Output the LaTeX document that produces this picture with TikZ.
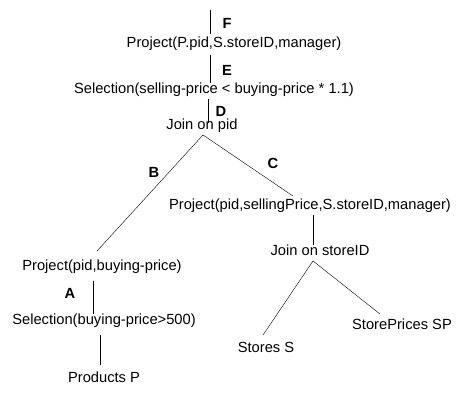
\documentclass[tikz,border=0pt]{standalone}
\usepackage{fontspec}
\setmainfont{Liberation Sans}

\begin{document}
\begin{tikzpicture}[x=1pt,y=-1pt,
		op/.style={inner sep=3pt,text height=0.75em,text depth=0.2em,font=\fontsize{14.7}{17}\selectfont},
		lbl/.style={inner sep=0pt,font=\fontsize{14.7}{17}\selectfont\bfseries}]
				\useasboundingbox (0,0) rectangle (475,400);

				\coordinate (root) at (210,10);
				\node[op] (projF) at (234,45) {Project(P.pid,S.storeID,manager)};
				\node[op] (selE) at (214,91) {Selection(selling-price < buying-price * 1.1)};
				\node[op] (joinpid) at (202,127) {Join on pid};
				\node[op] (projC) at (310,207) {Project(pid,sellingPrice,S.storeID,manager)};
				\node[op] (joinstore) at (320,253) {Join on storeID};
				\node[op] (stores) at (266,350) {Stores S};
				\node[op] (storeprices) at (402,327) {StorePrices SP};
				\node[op] (projB) at (102,268) {Project(pid,buying-price)};
				\node[op] (selA) at (104,322) {Selection(buying-price>500)};
				\node[op] (products) at (104,380) {Products P};

				\node[lbl] (lblF) at (227,23) {F};
				\node[lbl] (lblE) at (227,70) {E};
				\node[lbl] (lblD) at (221,111) {D};
				\node[lbl] (lblC) at (273,163) {C};
				\node[lbl] (lblB) at (154,172) {B};
				\node[lbl] (lblA) at (70,293) {A};

				\draw (root) -- ([yshift=3pt]projF.north -| root);
				\draw ([xshift=-24pt,yshift=-2pt]projF.south) -- ([xshift=-4pt]selE.north);
				\draw ([xshift=-6pt]selE.south) -- ([xshift=6pt,yshift=-4pt]joinpid.north);
				\draw ([xshift=1pt]joinpid.south) -- ([xshift=-5pt,yshift=9pt]projB.north);
				\draw ([xshift=1pt]joinpid.south) -- ([xshift=-17pt,yshift=3pt]projC.north);
				\draw ([xshift=3pt]projC.south) -- ([xshift=-7pt]joinstore.north);
				\draw ([xshift=-7pt]joinstore.south) -- ([xshift=-3pt,yshift=7pt]stores.north);
				\draw ([xshift=-7pt]joinstore.south) -- ([xshift=-22pt,yshift=5pt]storeprices.north);
				\draw ([xshift=-9pt,yshift=-5pt]projB.south) -- ([xshift=-11pt]selA.north);
				\draw ([xshift=-4pt,yshift=-5pt]selA.south) -- ([xshift=-4pt,yshift=7pt]products.north);
			\end{tikzpicture}
\end{document}
